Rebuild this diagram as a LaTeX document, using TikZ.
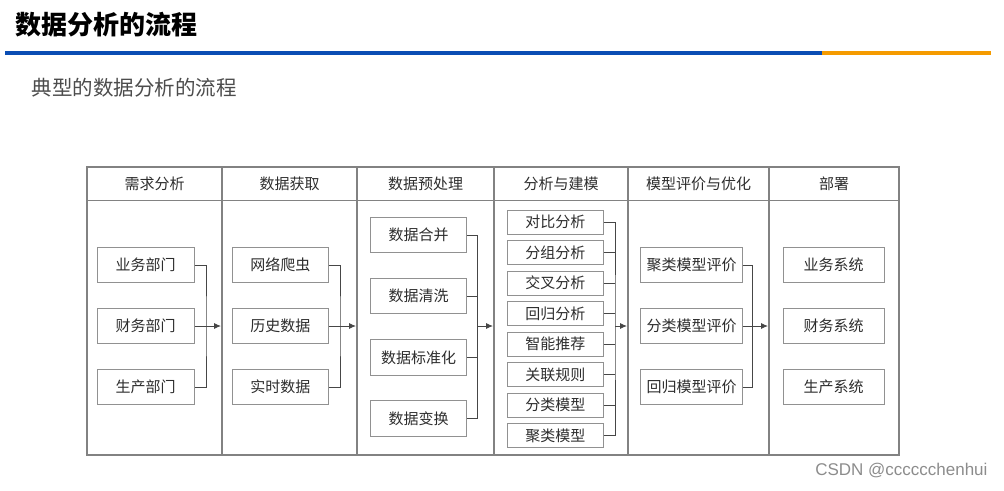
\documentclass[tikz,border=0pt]{standalone}
\usepackage{fontspec}
\setmainfont{Noto Sans CJK SC}
\newfontfamily\wmfont{Liberation Sans}
\usetikzlibrary{arrows.meta}
\definecolor{barblue}{RGB}{10,77,180}
\definecolor{barorange}{RGB}{245,155,0}
\definecolor{framegray}{RGB}{130,130,130}
\definecolor{boxgray}{RGB}{145,145,145}
\definecolor{wiregray}{RGB}{70,70,70}
\definecolor{inkgray}{RGB}{45,45,45}

\begin{document}
\begin{tikzpicture}[x=1pt,y=-1pt,
  >={Latex[length=7pt,width=6pt]},
  head/.style={text=inkgray,inner sep=0pt,font=\fontsize{15}{15}\selectfont},
  item/.style={draw=boxgray,line width=1pt,fill=white,text=inkgray,inner sep=0pt,minimum height=35.5pt,font=\fontsize{15}{15}\selectfont},
  thin item/.style={item,minimum height=24pt},
  frame/.style={draw=framegray,line width=1.2pt},
  wire/.style={draw=wiregray,line width=0.9pt}]
\useasboundingbox (0,0) rectangle (1004,490);

%title
\node[anchor=west,font=\fontsize{26}{26}\selectfont\bfseries] (title) at (12,25) {数据分析的流程};
\draw[barblue,line width=4pt] (5,52.5) -- (822,52.5);
\draw[barorange,line width=4pt] (822,52.5) -- (991,52.5);
\node[anchor=west,text=black!70,font=\fontsize{20.5}{20.5}\selectfont] (sub) at (28,88) {典型的数据分析的流程};

%table
\draw[frame] (87,167) rectangle (899,455);
\draw[frame] (87,200.5) -- (899,200.5);
\draw[frame] (222,167) -- (222,455);
\draw[frame] (357,167) -- (357,455);
\draw[frame] (494,167) -- (494,455);
\draw[frame] (628,167) -- (628,455);
\draw[frame] (769,167) -- (769,455);

\node[head] (h1) at (154.5,184) {需求分析};
\node[head] (h2) at (289.5,184) {数据获取};
\node[head] (h3) at (425.5,184) {数据预处理};
\node[head] (h4) at (561,184) {分析与建模};
\node[head] (h5) at (698.5,184) {模型评价与优化};
\node[head] (h6) at (834,184) {部署};

%需求分析
\node[item,minimum width=97pt] (a1) at (145.7,265) {业务部门};
\node[item,minimum width=97pt] (a2) at (145.7,326) {财务部门};
\node[item,minimum width=97pt] (a3) at (145.7,387) {生产部门};
\coordinate (j1) at (206,326);
\coordinate (t1) at (221,326);
\draw[wire] (a1.east) -| (j1) |- (a3.east);
\draw[wire,->] (a2.east) -- (t1);

%数据获取
\node[item,minimum width=96pt] (b1) at (280.3,265) {网络爬虫};
\node[item,minimum width=96pt] (b2) at (280.3,326) {历史数据};
\node[item,minimum width=96pt] (b3) at (280.3,387) {实时数据};
\coordinate (j2) at (340,326);
\coordinate (t2) at (356,326);
\draw[wire] (b1.east) -| (j2) |- (b3.east);
\draw[wire,->] (b2.east) -- (t2);

%数据预处理
\node[item,minimum width=96pt] (c1) at (418.7,235) {数据合并};
\node[item,minimum width=96pt] (c2) at (418.7,296.2) {数据清洗};
\node[item,minimum width=96pt] (c3) at (418.7,357.4) {数据标准化};
\node[item,minimum width=96pt] (c4) at (418.7,418.6) {数据变换};
\coordinate (j3) at (477.5,326);
\coordinate (t3) at (493,326);
\draw[wire] (c1.east) -| (j3) |- (c4.east);
\draw[wire] (c2.east) -- (c2.east -| j3);
\draw[wire] (c3.east) -- (c3.east -| j3);
\draw[wire,->] (j3) -- (t3);

%分析与建模
\node[thin item,minimum width=96pt] (d1) at (555.3,222) {对比分析};
\node[thin item,minimum width=96pt] (d2) at (555.3,252.5) {分组分析};
\node[thin item,minimum width=96pt] (d3) at (555.3,283) {交叉分析};
\node[thin item,minimum width=96pt] (d4) at (555.3,313.5) {回归分析};
\node[thin item,minimum width=96pt] (d5) at (555.3,344) {智能推荐};
\node[thin item,minimum width=96pt] (d6) at (555.3,374.5) {关联规则};
\node[thin item,minimum width=96pt] (d7) at (555.3,405) {分类模型};
\node[thin item,minimum width=96pt] (d8) at (555.3,435.5) {聚类模型};
\coordinate (j4) at (615,326);
\coordinate (t4) at (627,326);
\draw[wire] (d1.east) -| (j4) |- (d8.east);
\draw[wire] (d2.east) -- (d2.east -| j4);
\draw[wire] (d3.east) -- (d3.east -| j4);
\draw[wire] (d4.east) -- (d4.east -| j4);
\draw[wire] (d5.east) -- (d5.east -| j4);
\draw[wire] (d6.east) -- (d6.east -| j4);
\draw[wire] (d7.east) -- (d7.east -| j4);
\draw[wire,->] (j4) -- (t4);

%模型评价与优化
\node[item,minimum width=101.6pt] (e1) at (691.5,265) {聚类模型评价};
\node[item,minimum width=101.6pt] (e2) at (691.5,326) {分类模型评价};
\node[item,minimum width=101.6pt] (e3) at (691.5,387) {回归模型评价};
\coordinate (j5) at (752.5,326);
\coordinate (t5) at (768,326);
\draw[wire] (e1.east) -| (j5) |- (e3.east);
\draw[wire,->] (e2.east) -- (t5);

%部署
\node[item,minimum width=100.7pt] (f1) at (833.7,265) {业务系统};
\node[item,minimum width=100.7pt] (f2) at (833.7,326) {财务系统};
\node[item,minimum width=100.7pt] (f3) at (833.7,387) {生产系统};

\node[anchor=east,text=black!45,font=\wmfont\fontsize{17}{17}\selectfont] (mark) at (991,471) {CSDN @cccccchenhui};
\end{tikzpicture}
\end{document}
